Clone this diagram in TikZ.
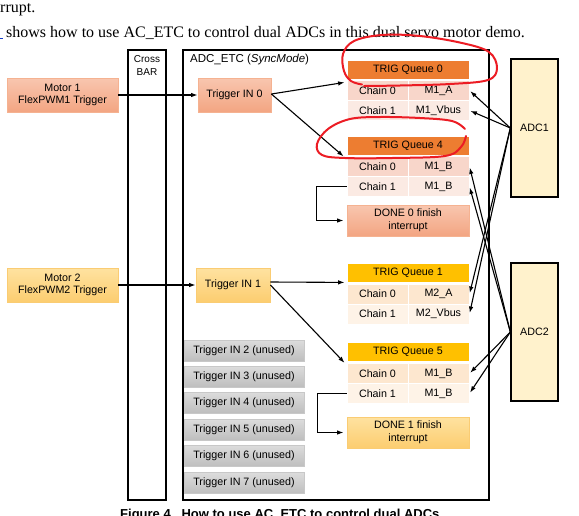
\documentclass[tikz,border=0pt]{standalone}
\usepackage{fontspec}
\setmainfont{Liberation Sans}
\newfontfamily\serifft{Liberation Serif}
\usetikzlibrary{arrows.meta}
\definecolor{salT}{RGB}{248,198,175}
\definecolor{salB}{RGB}{243,165,130}
\definecolor{salD}{RGB}{245,178,145}
\definecolor{yelT}{RGB}{254,226,160}
\definecolor{yelB}{RGB}{252,205,112}
\definecolor{yelD}{RGB}{250,204,115}
\definecolor{qorange}{RGB}{237,125,49}
\definecolor{qyellow}{RGB}{255,192,0}
\definecolor{rowOa}{RGB}{248,214,202}
\definecolor{rowOb}{RGB}{251,234,227}
\definecolor{rowYa}{RGB}{253,231,207}
\definecolor{rowYb}{RGB}{254,243,231}
\definecolor{grayT}{RGB}{220,220,220}
\definecolor{grayB}{RGB}{190,190,190}
\definecolor{grayD}{RGB}{200,200,200}
\definecolor{adcfill}{RGB}{255,242,204}
\definecolor{penred}{RGB}{236,28,36}
\definecolor{linkblue}{RGB}{20,60,200}
\tikzset{
  dfont/.style={font=\fontsize{10.7}{12.7}\selectfont},
  bx/.style={dfont, inner sep=0pt, align=center},
  salbox/.style={bx, top color=salT, bottom color=salB, draw=salD, line width=0.8pt},
  yelbox/.style={bx, top color=yelT, bottom color=yelB, draw=yelD, line width=0.8pt},
  graybox/.style={bx, top color=grayT, bottom color=grayB, draw=grayD, line width=0.6pt, minimum width=120pt, minimum height=21pt},
  qhead/.style={bx, draw=white, line width=0.8pt, minimum width=122pt, minimum height=19pt},
  cellL/.style={bx, draw=white, line width=1pt, minimum width=61pt, minimum height=20pt},
  cellR/.style={bx, draw=white, line width=1pt, minimum width=61pt, minimum height=20pt},
  bigbox/.style={draw=black, line width=1.3pt, fill=white},
  adcbox/.style={bx, draw=black, line width=1.3pt, fill=adcfill, minimum width=47pt, minimum height=138pt},
  arr/.style={-{Latex[length=6.5pt,width=4.5pt]}, line width=1.1pt, black},
  redpen/.style={penred, line width=2pt, line cap=round, line join=round},
  doctext/.style={anchor=base west, inner sep=0pt, font=\serifft\fontsize{16}{18}\selectfont}
}
\begin{document}
\begin{tikzpicture}[x=1pt,y=-1pt]
\useasboundingbox (0,0) rectangle (579,515);
\clip (0,0) rectangle (579,515);
% surrounding document text
\node[doctext] (t1) at (0,12) {rrupt.};
\node[doctext] (t2) at (6,37) {shows how to use AC\_ETC to control dual ADCs in this dual servo motor demo.};
\draw[linkblue, line width=0.8pt] (0,38.5) -- (2.5,38.5);
\node[anchor=base west, inner sep=0pt, font=\bfseries\fontsize{13}{15}\selectfont] (cap) at (120,518) {Figure 4.\ \ How to use AC\_ETC to control dual ADCs};
% big containers
\draw[bigbox] (128,50) rectangle (166,500);
\node[bx, font=\fontsize{10}{13}\selectfont] (xbar) at (147,66) {Cross\\BAR};
\draw[bigbox] (183,50) rectangle (489,500);
\node[anchor=west, inner sep=0pt, font=\fontsize{11.5}{13}\selectfont] (etc) at (190,60) {ADC\_ETC (\textit{SyncMode})};
% left sources
\node[salbox, minimum width=111pt, minimum height=34pt] (m1) at (62.5,95) {Motor 1\\FlexPWM1 Trigger};
\node[yelbox, minimum width=111pt, minimum height=34pt] (m2) at (62.5,285) {Motor 2\\FlexPWM2 Trigger};
\node[salbox, minimum width=73pt, minimum height=34pt] (tin0) at (234.5,95) {Trigger IN 0};
\node[yelbox, minimum width=74pt, minimum height=34pt] (tin1) at (233,285) {Trigger IN 1};
% unused triggers
\node[graybox] (tin2) at (244,350.5) {Trigger IN 2 (unused)};
\node[graybox] (tin3) at (244,376.5) {Trigger IN 3 (unused)};
\node[graybox] (tin4) at (244,402.5) {Trigger IN 4 (unused)};
\node[graybox] (tin5) at (244,429.5) {Trigger IN 5 (unused)};
\node[graybox] (tin6) at (244,456) {Trigger IN 6 (unused)};
\node[graybox] (tin7) at (244,483) {Trigger IN 7 (unused)};
% queue 0
\node[qhead, fill=qorange] (q0) at (408,69.5) {TRIG Queue 0};
\node[cellL, fill=rowOa] (q0c0) at (377.5,90.5) {Chain 0};
\node[cellR, fill=rowOa] (q0r0) at (438.5,90.5) {M1\_A};
\node[cellL, fill=rowOb] (q0c1) at (377.5,110.5) {Chain 1};
\node[cellR, fill=rowOb] (q0r1) at (438.5,110.5) {M1\_Vbus};
% queue 4
\node[qhead, fill=qorange] (q4) at (408,145.5) {TRIG Queue 4};
\node[cellL, fill=rowOa] (q4c0) at (377.5,166.5) {Chain 0};
\node[cellR, fill=rowOa] (q4r0) at (438.5,166.5) {M1\_B};
\node[cellL, fill=rowOb] (q4c1) at (377.5,186.5) {Chain 1};
\node[cellR, fill=rowOb] (q4r1) at (438.5,186.5) {M1\_B};
\node[salbox, minimum width=122pt, minimum height=31pt] (done0) at (408,220.5) {DONE 0 finish\\interrupt};
% queue 1
\node[qhead, fill=qyellow] (q1) at (408,272.5) {TRIG Queue 1};
\node[cellL, fill=rowYa] (q1c0) at (377.5,294) {Chain 0};
\node[cellR, fill=rowYa] (q1r0) at (438.5,294) {M2\_A};
\node[cellL, fill=rowYb] (q1c1) at (377.5,314) {Chain 1};
\node[cellR, fill=rowYb] (q1r1) at (438.5,314) {M2\_Vbus};
% queue 5
\node[qhead, fill=qyellow] (q5) at (408,352) {TRIG Queue 5};
\node[cellL, fill=rowYa] (q5c0) at (377.5,373.5) {Chain 0};
\node[cellR, fill=rowYa] (q5r0) at (438.5,373.5) {M1\_B};
\node[cellL, fill=rowYb] (q5c1) at (377.5,393.5) {Chain 1};
\node[cellR, fill=rowYb] (q5r1) at (438.5,393.5) {M1\_B};
\node[yelbox, minimum width=122pt, minimum height=31pt] (done1) at (408,432.5) {DONE 1 finish\\interrupt};
% ADCs
\node[adcbox] (adc1) at (534.5,128) {ADC1};
\node[adcbox] (adc2) at (534.5,332) {ADC2};
% connectors
\draw[arr] (m1.east) -- (tin0.west);
\draw[arr] (m2.east) -- (tin1.west);
\draw[arr] ([yshift=1pt]tin0.east) -- ([xshift=-2pt,yshift=-3pt]q0.south west);
\draw[arr] ([yshift=1pt]tin0.east) -- ([xshift=-3pt,yshift=-1pt]q4.south west);
\draw[arr] ([yshift=3pt]tin1.east) -- ([xshift=-2pt]q1.south west);
\draw[arr] (tin1.east) -- ([xshift=-2pt,yshift=-1pt]q5.south west);
\draw[arr, shorten >=3pt] (q4c1.west) -- ++(-30,0) |- (done0.west);
\draw[arr, shorten >=3pt] (q5c1.west) -- ++(-29,0) |- (done1.west);
\draw[arr, shorten >=1pt] (adc1.west) -- (q0r0.east);
\draw[arr, shorten >=1pt] (adc1.west) -- (q0r1.east);
\draw[arr, shorten >=1pt] (adc1.west) -- (q1r0.east);
\draw[arr, shorten >=1pt] (adc1.west) -- (q1r1.east);
\draw[arr, shorten >=1pt] (adc2.west) -- (q4r0.east);
\draw[arr, shorten >=1pt] (adc2.west) -- (q4r1.east);
\draw[arr, shorten >=1pt] (adc2.west) -- (q5r0.east);
\draw[arr, shorten >=1pt] (adc2.west) -- (q5r1.east);
% red hand-drawn marks
\draw[redpen] plot[smooth, tension=0.6] coordinates {(364,86) (400,85.5) (450,84) (488,80) (497,68) (489,52) (462,43) (420,36) (382,35) (354,41) (343,54) (344,71) (351,81) (362,84.5)};
\draw[redpen] plot[smooth, tension=0.6] coordinates {(465,129) (452,121) (420,118) (380,117) (350,119) (328,129) (317,144) (322,155) (345,158) (392,158) (445,156) (461,147) (466,136)};
\end{tikzpicture}
\end{document}
